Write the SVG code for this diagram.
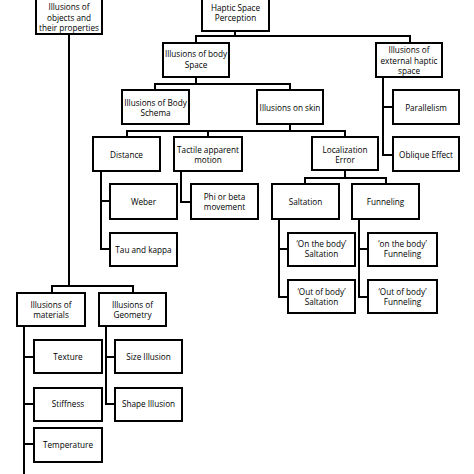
<svg xmlns="http://www.w3.org/2000/svg" width="474" height="474" viewBox="0 0 474 474">
<style>
.b{fill:#fff;stroke:#000;stroke-width:2}
.t{font-family:"Open Sans","Liberation Sans",sans-serif;font-size:8.2px;fill:#000;text-anchor:middle}
.c{fill:none;stroke:#000;stroke-width:2}
</style>
<rect width="474" height="474" fill="#fff"/>
<g id="connectors">
<path class="c" d="M69,34 V286 M52,293 V286 H133 V293"/>
<path class="c" d="M235,31 V36 M196,43 V36 H410 V43"/>
<path class="c" d="M196,77 V84 M155,90 V84 H290 V90"/>
<path class="c" d="M290,124 V131 M127,137 V131 H345 V137 M208,131 V137"/>
<path class="c" d="M383,77 V155 H393 M383,107 H393"/>
<path class="c" d="M345,170 V178 M305,184 V178 H386 V184"/>
<path class="c" d="M101,171 V249 H110 M101,201 H110"/>
<path class="c" d="M181,171 V202 H191"/>
<path class="c" d="M279,219 V297 H288 M279,249 H288"/>
<path class="c" d="M359,219 V297 H368 M359,249 H368"/>
<path class="c" d="M24,326 V474 M24,357 H34 M24,404 H34 M24,444 H34"/>
<path class="c" d="M106,326 V404 H115 M106,357 H115"/>
</g>
<g id="objects"><rect class="b" x="36" y="-1" width="66" height="35"/><text class="t"><tspan x="69" y="10">Illusions of</tspan><tspan x="69" y="20.5">objects and</tspan><tspan x="69" y="31">their properties</tspan></text></g>
<g id="haptic"><rect class="b" x="202" y="-1" width="67" height="32"/><text class="t"><tspan x="235.5" y="10.5">Haptic Space</tspan><tspan x="235.5" y="21">Perception</tspan></text></g>
<g id="bodySpace"><rect class="b" x="163" y="43" width="66" height="34"/><text class="t"><tspan x="196" y="57">Illusions of body</tspan><tspan x="196" y="67.5">Space</tspan></text></g>
<g id="external"><rect class="b" x="376" y="43" width="66" height="34"/><text class="t"><tspan x="409" y="53">Illusions of</tspan><tspan x="409" y="63.5">external haptic</tspan><tspan x="409" y="74">space</tspan></text></g>
<g id="bodySchema"><rect class="b" x="122" y="90" width="67" height="34"/><text class="t"><tspan x="155.5" y="105.5">Illusions of Body</tspan><tspan x="155.5" y="116">Schema</tspan></text></g>
<g id="skin"><rect class="b" x="257" y="90" width="66" height="34"/><text class="t" x="290" y="110.5">Illusions on skin</text></g>
<g id="parallelism"><rect class="b" x="393" y="90" width="66" height="34"/><text class="t" x="426" y="110.5">Parallelism</text></g>
<g id="distance"><rect class="b" x="93" y="137" width="67" height="34"/><text class="t" x="126.5" y="158">Distance</text></g>
<g id="tactile"><rect class="b" x="174" y="137" width="68" height="34"/><text class="t"><tspan x="208" y="152.5">Tactile apparent</tspan><tspan x="208" y="162.5">motion</tspan></text></g>
<g id="localization"><rect class="b" x="312" y="137" width="66" height="33"/><text class="t"><tspan x="345" y="152.5">Localization</tspan><tspan x="345" y="162.5">Error</tspan></text></g>
<g id="oblique"><rect class="b" x="393" y="137" width="66" height="34"/><text class="t" x="426" y="158">Oblique Effect</text></g>
<g id="weber"><rect class="b" x="110" y="184" width="67" height="35"/><text class="t" x="143.5" y="204.5">Weber</text></g>
<g id="phi"><rect class="b" x="191" y="184" width="67" height="35"/><text class="t"><tspan x="224.5" y="199.5">Phi or beta</tspan><tspan x="224.5" y="209.5">movement</tspan></text></g>
<g id="saltation"><rect class="b" x="272" y="184" width="67" height="35"/><text class="t" x="305.5" y="205">Saltation</text></g>
<g id="funneling"><rect class="b" x="352" y="184" width="67" height="35"/><text class="t" x="385.5" y="205">Funneling</text></g>
<g id="tau"><rect class="b" x="110" y="233" width="67" height="33"/><text class="t" x="143.5" y="252.5">Tau and kappa</text></g>
<g id="onSaltation"><rect class="b" x="288" y="233" width="67" height="33"/><text class="t"><tspan x="321.5" y="247">‘On the body’</tspan><tspan x="321.5" y="257">Saltation</tspan></text></g>
<g id="onFunneling"><rect class="b" x="368" y="233" width="69" height="33"/><text class="t"><tspan x="402.5" y="247">‘on the body’</tspan><tspan x="402.5" y="257">Funneling</tspan></text></g>
<g id="outSaltation"><rect class="b" x="288" y="280" width="67" height="33"/><text class="t"><tspan x="321.5" y="294.5">‘Out of body’</tspan><tspan x="321.5" y="304.5">Saltation</tspan></text></g>
<g id="outFunneling"><rect class="b" x="368" y="280" width="69" height="33"/><text class="t"><tspan x="402.5" y="294.5">‘Out of body’</tspan><tspan x="402.5" y="304.5">Funneling</tspan></text></g>
<g id="materials"><rect class="b" x="17" y="293" width="68" height="33"/><text class="t"><tspan x="51" y="307.5">Illusions of</tspan><tspan x="51" y="317.5">materials</tspan></text></g>
<g id="geometry"><rect class="b" x="99" y="293" width="67" height="33"/><text class="t"><tspan x="132.5" y="307.5">Illusions of</tspan><tspan x="132.5" y="317.5">Geometry</tspan></text></g>
<g id="texture"><rect class="b" x="34" y="340" width="68" height="33"/><text class="t" x="68" y="360">Texture</text></g>
<g id="size"><rect class="b" x="115" y="340" width="67" height="33"/><text class="t" x="148.5" y="360">Size Illusion</text></g>
<g id="stiffness"><rect class="b" x="34" y="388" width="68" height="33"/><text class="t" x="68" y="407">Stiffness</text></g>
<g id="shape"><rect class="b" x="115" y="388" width="67" height="33"/><text class="t" x="148.5" y="407">Shape Illusion</text></g>
<g id="temperature"><rect class="b" x="34" y="428" width="68" height="34"/><text class="t" x="68" y="448">Temperature</text></g>
</svg>
